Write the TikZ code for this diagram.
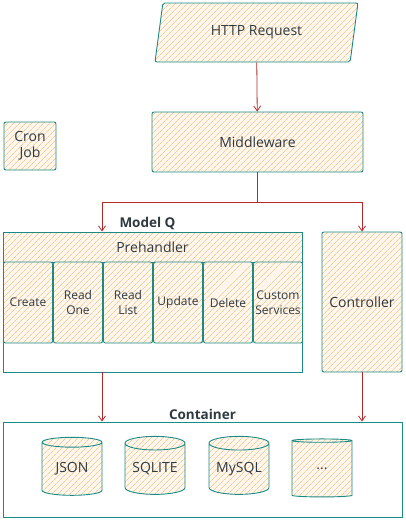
\documentclass[tikz,border=0pt]{standalone}
\usepackage{fontspec}
\setmainfont{Open Sans}
\usetikzlibrary{shapes.geometric,patterns.meta,arrows.meta}
\definecolor{boxline}{HTML}{1A8A85}
\definecolor{hatch}{HTML}{F5C992}
\definecolor{hatchbg}{HTML}{FFF7EE}
\definecolor{arrowred}{HTML}{B32A2A}
\definecolor{inkgray}{HTML}{2E3A3F}
\tikzstyle{block} = [draw=boxline, line width=0.9pt, rounded corners=2pt, preaction={fill=hatchbg}, pattern={Lines[angle=45,distance=4pt,line width=0.7pt]}, pattern color=hatch, text=inkgray, align=center, inner sep=0pt, font=\fontsize{14}{16}\selectfont]
\tikzstyle{small} = [block, font=\fontsize{12}{15}\selectfont]
\tikzstyle{frame} = [draw=boxline, line width=0.9pt, inner sep=0pt]
\tikzstyle{store} = [block, rounded corners=0pt, cylinder, shape border rotate=90, aspect=0.3, minimum width=60pt, minimum height=58pt]
\tikzstyle{grouptitle} = [text=inkgray, font=\bfseries\fontsize{13.5}{15}\selectfont, inner sep=1.5pt]
\tikzstyle{wire} = [draw=arrowred, line width=0.8pt]
\tikzstyle{flow} = [wire, -{Straight Barb[length=5pt,width=7pt]}]

\begin{document}
\begin{tikzpicture}[x=1pt, y=-1pt]
\useasboundingbox (0,0) rectangle (406,520);
% top of the flow
\node[block, trapezium, trapezium left angle=74, trapezium right angle=106, trapezium stretches=true, minimum width=203pt, minimum height=59pt] (http) at (256.5,32.5) {HTTP Request};
\node[block, minimum width=211pt, minimum height=60pt] (mw) at (257.5,142) {Middleware};
\node[block, minimum width=52pt, minimum height=48pt] (cron) at (30,146) {Cron\\Job};
% model Q group
\node[frame, minimum width=299pt, minimum height=140pt, label={[grouptitle, xshift=-5pt]above:Model Q}] (modelq) at (152.5,302) {};
\node[block, rounded corners=0pt, minimum width=299pt, minimum height=30pt] (pre) at (152.5,247) {Prehandler};
\foreach \name/\txt [count=\i] in {create/Create, readone/{Read\\One}, readlist/{Read\\List}, update/Update, delete/Delete, custom/{Custom\\Services}}
	\node[small, minimum width=49pt, minimum height=81pt] (\name) at ({3+50*(\i-1)+25},302.5) {\txt};
\node[block, minimum width=80pt, minimum height=140pt] (ctrl) at (362,302) {Controller};
% storage
\node[frame, minimum width=399pt, minimum height=95pt, label={[grouptitle]above:Container}] (box) at (202.5,469.5) {};
\node[store] (json) at (72,469) {JSON};
\node[store] (sqlite) at (155,469) {SQLITE};
\node[store] (mysql) at (239,469) {MySQL};
\node[store] (more) at (322,469) {...};
% connectors
\coordinate (split) at (257.5,202);
\coordinate (mqin) at ([xshift=-50.5pt]modelq.north);
\coordinate (mqout) at ([xshift=-50.5pt]modelq.south);
\draw[flow] (http) -- (mw);
\draw[wire] (mw.south) -- (split);
\draw[flow] (split) -| (mqin);
\draw[flow] (split) -| (ctrl.north);
\draw[flow] (mqout) -- (mqout |- box.north);
\draw[flow] (ctrl.south) -- (ctrl.south |- box.north);
\end{tikzpicture}
\end{document}
